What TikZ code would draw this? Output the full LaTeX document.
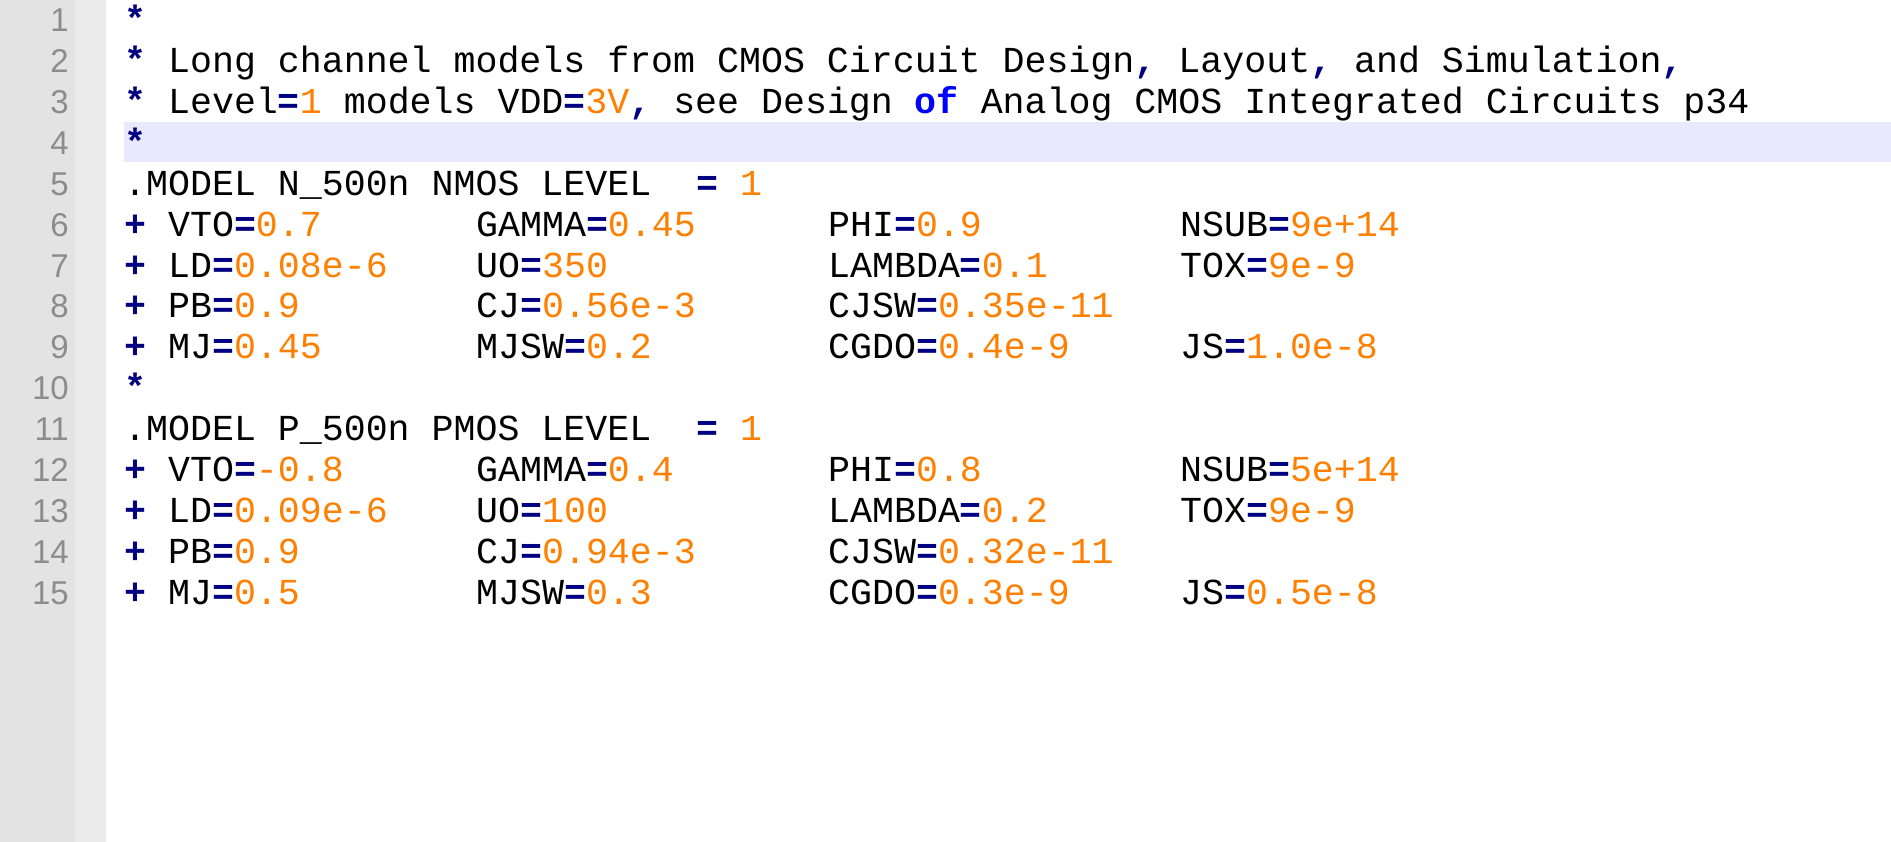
\documentclass[tikz,border=0pt]{standalone}
\usepackage{fontspec}
\setmonofont{Liberation Mono}
\newfontfamily\numfont{Liberation Sans}
\definecolor{op}{HTML}{000080}
\definecolor{num}{HTML}{FF8000}
\definecolor{kw}{HTML}{0000FF}
\definecolor{hl}{HTML}{E8E8FF}
\newcommand{\Op}[1]{{\bfseries\color{op}#1}}
\newcommand{\Nm}[1]{{\color{num}#1}}
\tikzset{code/.style={anchor=base west,inner sep=0pt,font=\ttfamily\fontsize{36.6}{40}\selectfont},
 lnum/.style={anchor=base east,inner sep=0pt,text=gray!90,font=\numfont\fontsize{33}{36}\selectfont}}
\begin{document}
\begin{tikzpicture}[x=1pt,y=-1pt]
\fill[white] (0,0) rectangle (1891,842);
\useasboundingbox (0,0) rectangle (1891,842);
\fill[black!11] (0,0) rectangle (75,842);
\fill[black!8] (75,0) rectangle (106,842);
\fill[hl] (124,122) rectangle (1891,162);
\foreach \k in {1,...,15}{
  \node[lnum] (n\k) at (69,{31.5+40.92*(\k-1)}) {\k};
}
\newcommand{\Row}[3]{\node[code] (r#1c#2) at ({124+22*#2},{31.5+40.92*(#1-1)}) {#3};}
\Row{1}{0}{\Op{*}}
\Row{2}{0}{\Op{*} Long channel models from CMOS Circuit Design\Op{,} Layout\Op{,} and Simulation\Op{,}}
\Row{3}{0}{\Op{*} Level\Op{=}\Nm{1} models VDD\Op{=}\Nm{3V}\Op{,} see Design {\bfseries\color{kw}of} Analog CMOS Integrated Circuits p34}
\Row{4}{0}{\Op{*}}
\Row{5}{0}{.MODEL N\_500n NMOS LEVEL}
\Row{5}{26}{\Op{=} \Nm{1}}
\Row{6}{0}{\Op{+} VTO\Op{=}\Nm{0.7}}
\Row{6}{16}{GAMMA\Op{=}\Nm{0.45}}
\Row{6}{32}{PHI\Op{=}\Nm{0.9}}
\Row{6}{48}{NSUB\Op{=}\Nm{9e+14}}
\Row{7}{0}{\Op{+} LD\Op{=}\Nm{0.08e-6}}
\Row{7}{16}{UO\Op{=}\Nm{350}}
\Row{7}{32}{LAMBDA\Op{=}\Nm{0.1}}
\Row{7}{48}{TOX\Op{=}\Nm{9e-9}}
\Row{8}{0}{\Op{+} PB\Op{=}\Nm{0.9}}
\Row{8}{16}{CJ\Op{=}\Nm{0.56e-3}}
\Row{8}{32}{CJSW\Op{=}\Nm{0.35e-11}}
\Row{9}{0}{\Op{+} MJ\Op{=}\Nm{0.45}}
\Row{9}{16}{MJSW\Op{=}\Nm{0.2}}
\Row{9}{32}{CGDO\Op{=}\Nm{0.4e-9}}
\Row{9}{48}{JS\Op{=}\Nm{1.0e-8}}
\Row{10}{0}{\Op{*}}
\Row{11}{0}{.MODEL P\_500n PMOS LEVEL}
\Row{11}{26}{\Op{=} \Nm{1}}
\Row{12}{0}{\Op{+} VTO\Op{=}\Nm{-0.8}}
\Row{12}{16}{GAMMA\Op{=}\Nm{0.4}}
\Row{12}{32}{PHI\Op{=}\Nm{0.8}}
\Row{12}{48}{NSUB\Op{=}\Nm{5e+14}}
\Row{13}{0}{\Op{+} LD\Op{=}\Nm{0.09e-6}}
\Row{13}{16}{UO\Op{=}\Nm{100}}
\Row{13}{32}{LAMBDA\Op{=}\Nm{0.2}}
\Row{13}{48}{TOX\Op{=}\Nm{9e-9}}
\Row{14}{0}{\Op{+} PB\Op{=}\Nm{0.9}}
\Row{14}{16}{CJ\Op{=}\Nm{0.94e-3}}
\Row{14}{32}{CJSW\Op{=}\Nm{0.32e-11}}
\Row{15}{0}{\Op{+} MJ\Op{=}\Nm{0.5}}
\Row{15}{16}{MJSW\Op{=}\Nm{0.3}}
\Row{15}{32}{CGDO\Op{=}\Nm{0.3e-9}}
\Row{15}{48}{JS\Op{=}\Nm{0.5e-8}}
\end{tikzpicture}
\end{document}
